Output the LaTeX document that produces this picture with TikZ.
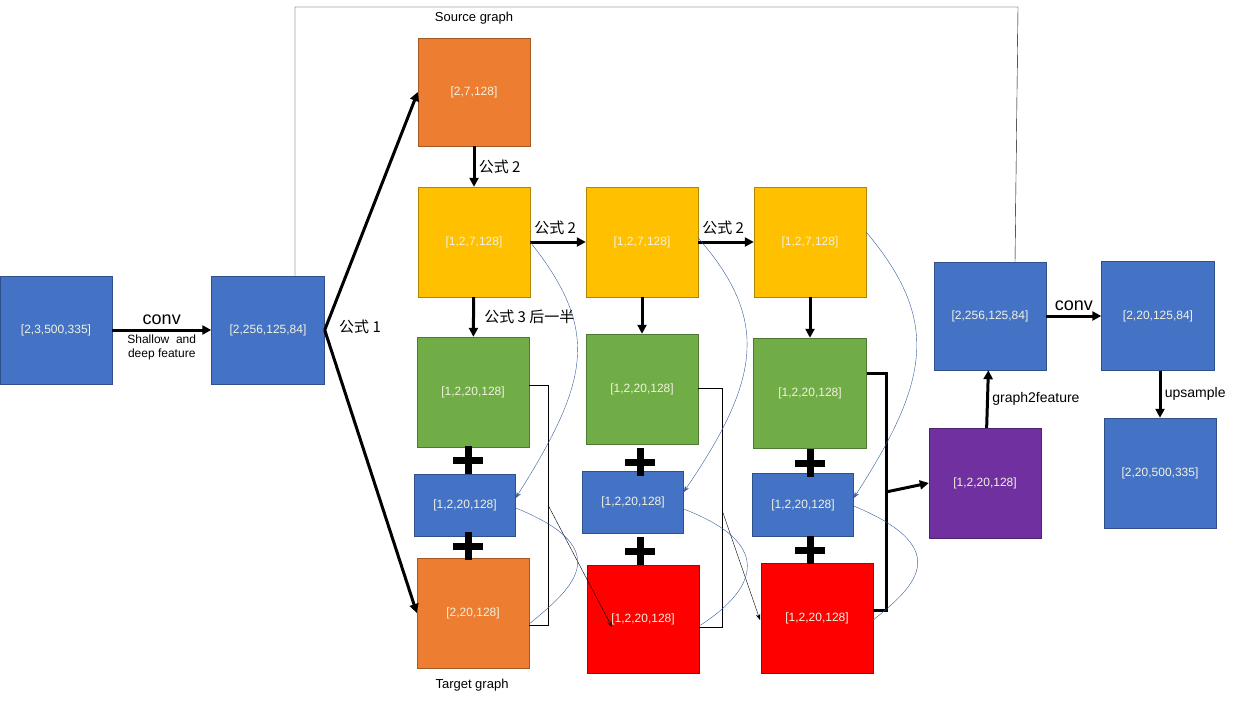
\documentclass[tikz,border=0pt]{standalone}
\usepackage{fontspec}
\setmainfont{Liberation Sans}
\newfontfamily\cjk{Noto Sans CJK SC}
\usetikzlibrary{arrows.meta}
\definecolor{myblue}{HTML}{4472C4}
\definecolor{myorange}{HTML}{ED7D31}
\definecolor{myyellow}{HTML}{FFC000}
\definecolor{mygreen}{HTML}{70AD47}
\definecolor{mypurple}{HTML}{7030A0}
\definecolor{mytext}{HTML}{F2F2E0}
\tikzset{
  box/.style={draw=#1!70!black, fill=#1, minimum width=112pt, minimum height=110pt,
    inner sep=0pt, text=mytext, font=\fontsize{12}{14}\selectfont},
  small box/.style={box=#1, minimum width=101pt, minimum height=62pt},
  fat/.style={-{Triangle[length=9pt,width=9pt]}, line width=3pt},
  thin curve/.style={draw=myblue!80!black, thin, -{Stealth[length=6pt]}},
  lbl/.style={font=\fontsize{15}{17}\selectfont\cjk},
}
\begin{document}
\begin{tikzpicture}[x=1pt,y=-1pt]
\useasboundingbox (0,0) rectangle (1260,707);

\node[box=myblue, minimum height=108pt] (in) at (56,330) {[2,3,500,335]};
\node[box=myblue, minimum width=113pt, minimum height=108pt] (feat) at (268,330) {[2,256,125,84]};
\node[box=myorange, minimum height=108pt] (src) at (474,92) {[2,7,128]};
\node[box=myyellow] (y1) at (474,242) {[1,2,7,128]};
\node[box=myyellow] (y2) at (642,242) {[1,2,7,128]};
\node[box=myyellow] (y3) at (810,242) {[1,2,7,128]};
\node[box=mygreen] (g1) at (473,392) {[1,2,20,128]};
\node[box=mygreen] (g2) at (642,389) {[1,2,20,128]};
\node[box=mygreen, minimum width=113pt] (g3) at (810,393) {[1,2,20,128]};
\node[small box=myblue] (b1) at (465,505) {[1,2,20,128]};
\node[small box=myblue] (b2) at (633,502) {[1,2,20,128]};
\node[small box=myblue, minimum height=63pt] (b3) at (803,505) {[1,2,20,128]};
\node[box=myorange] (tgt) at (473,613) {[2,20,128]};
\node[box=red, minimum height=108pt] (r2) at (643,619) {[1,2,20,128]};
\node[box=red] (r3) at (817,618) {[1,2,20,128]};
\node[box=mypurple] (pur) at (985,483) {[1,2,20,128]};
\node[box=myblue, minimum height=108pt] (feat2) at (990,316) {[2,256,125,84]};
\node[box=myblue, minimum width=113pt, minimum height=109pt] (out) at (1158,316) {[2,20,125,84]};
\node[box=myblue] (fin) at (1160,473) {[2,20,500,335]};

\node[font=\fontsize{13}{15}\selectfont] at (474,18) {Source graph};
\node[font=\fontsize{13}{15}\selectfont] at (472,685) {Target graph};

% main flow
\draw[fat] (in) -- node[above, font=\fontsize{18}{20}\selectfont] {conv}
  node[below, align=center, font=\fontsize{12}{14}\selectfont] {Shallow\ \ and\\deep feature} (feat);
\draw[fat] (feat.east) ++(0,0) -- (src.west);
\draw[fat] (feat.east) -- (tgt.west);
\node[lbl] at (360,327) {公式 1};
\coordinate (top1) at (295,7);
\coordinate (top2) at (1018,7);
\draw (feat.north -| 295,0) -- (top1) -- (top2) -- (feat2.north -| 1015,0);

\draw[fat] (src) -- node[right, lbl] {公式 2} (y1);
\draw[fat] (y1) -- node[above, lbl, pos=0.45, yshift=2pt] {公式 2} (y2);
\draw[fat] (y2) -- node[above, lbl, pos=0.45, yshift=2pt] {公式 2} (y3);
\draw[fat] (y1) -- node[right, lbl, xshift=6pt] {公式 3 后一半} (g1);
\draw[fat] (y2.south) -- (g2.north);
\draw[fat] (y3.south) -- (g3.north);

% plus signs
\foreach \px/\py in {468/460, 468/546, 640/462, 640/551, 810/463, 810/550}
  \draw[line width=7pt] (\px-15,\py) -- (\px+15,\py) (\px,\py-14) -- (\px,\py+14);

% bracket to purple
\coordinate (brm) at (886,492);
\draw[line width=3pt] (g3.east |- 0,373) -- (886,373) -- (886,610) -- (r3.east |- 0,610);
\draw[fat] (brm) -- (pur.west);
\draw[fat] (pur) -- node[right, font=\fontsize{14}{16}\selectfont] {graph2feature} (feat2);
\draw[fat] (feat2) -- node[above, font=\fontsize{18}{20}\selectfont] {conv} (out);
\draw[fat] (out.south -| 1160,0) -- node[right, font=\fontsize{14}{16}\selectfont] {upsample} (fin);

% thin black brackets and arrows
\coordinate (k1) at (548,505);
\coordinate (k2) at (722,510);
\draw (g1.east |- 0,385) -- (548,385) -- (548,625) -- (tgt.east |- 0,625);
\draw (g2.east |- 0,388) -- (722,388) -- (722,627) -- (r2.east |- 0,627);
\draw[-{Stealth[length=6pt]}] (k1) -- (612,627);
\draw[-{Stealth[length=6pt]}] (k2) -- (760,620);

% thin blue curves
\draw[thin curve] (y1.east |- 0,242) .. controls (600,330) and (590,380) .. (b1.east |- 0,498);
\draw[thin curve] (y2.east |- 0,238) .. controls (770,320) and (760,380) .. (b2.east |- 0,492);
\draw[thin curve] (y3.east |- 0,232) .. controls (940,320) and (930,380) .. (b3.east |- 0,498);
\draw[myblue!80!black, thin] (b1.east |- 0,508) .. controls (620,550) and (570,590) .. (tgt.east |- 0,624);
\draw[myblue!80!black, thin] (b2.east |- 0,509) .. controls (790,550) and (740,600) .. (r2.east |- 0,626);
\draw[myblue!80!black, thin] (b3.east |- 0,506) .. controls (960,550) and (910,590) .. (r3.east |- 0,620);
\end{tikzpicture}
\end{document}
